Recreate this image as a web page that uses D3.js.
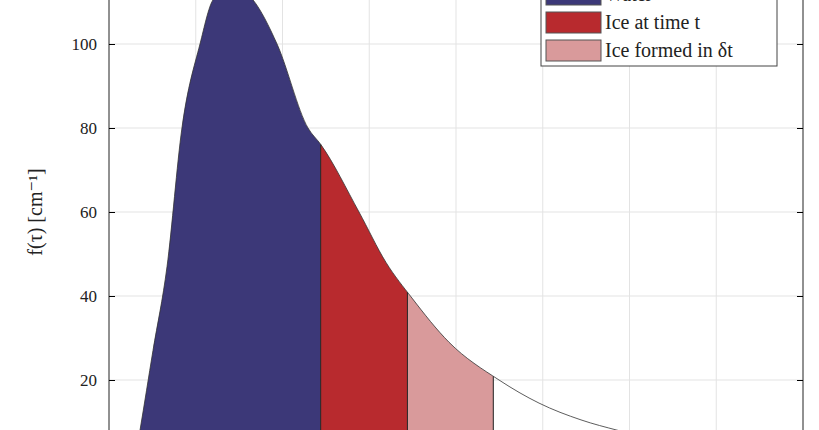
<!DOCTYPE html>
<html><head><meta charset="utf-8">
<script src="https://cdn.jsdelivr.net/npm/d3@7"></script>
<style>body{margin:0;background:#fff}text{font-family:"Liberation Serif","DejaVu Serif",serif;fill:#222}</style>
</head><body><div id="chart"></div>
<script>
// curve f(tau), x in grid units (0..8), y in cm^-1
var curveX = [0.29, 0.357, 0.507, 0.669, 0.841, 1.049, 1.199, 1.429, 1.66, 1.937, 2.294, 2.444, 2.882, 3.193, 3.493, 3.919, 4.496, 4.957, 5.441, 5.867, 6.5, 7.2, 8];
var curveY = [0, 8, 27, 47, 80, 100, 110.5, 114, 110.5, 100, 80, 76, 60, 48, 39.5, 29, 20, 14.5, 10.5, 8, 5, 3, 1.8];
var regionNames = ["Water", "Ice at time t", "Ice formed in δt"];
var regionColors = ["#3c3878", "#b82a2e", "#d99a9b"];
var regionBounds = [[0, 2.44], [2.44, 3.44], [3.44, 4.43]];
var yTicks = [20, 40, 60, 80, 100];

var margin = { left: 109, right: 16 };
var W = 819, H = 430;
var svg = d3.select("#chart").append("svg").attr("width", W).attr("height", H);

var x = d3.scaleLinear().domain([0, 8]).range([margin.left, W - margin.right]);
var y = d3.scaleLinear().domain([0, 100]).range([464, 44]);

// grid
svg.append("g").selectAll("line").data(d3.range(1, 8)).join("line")
    .attr("x1", function (d) { return x(d); }).attr("x2", function (d) { return x(d); })
    .attr("y1", 0).attr("y2", H).attr("stroke", "#e3e3e3");
svg.append("g").selectAll("line").data(yTicks).join("line")
    .attr("x1", x(0)).attr("x2", x(8))
    .attr("y1", function (d) { return y(d); }).attr("y2", function (d) { return y(d); })
    .attr("stroke", "#e3e3e3");

var pts = curveX.map(function (v, i) { return [v, curveY[i]]; });
var area = d3.area().x(function (d) { return x(d[0]); }).y0(y(0)).y1(function (d) { return y(d[1]); }).curve(d3.curveMonotoneX);
var line = d3.line().x(function (d) { return x(d[0]); }).y(function (d) { return y(d[1]); }).curve(d3.curveMonotoneX);

var defs = svg.append("defs");
regionBounds.forEach(function (b, i) {
    defs.append("clipPath").attr("id", "clip" + i).append("rect")
        .attr("x", x(b[0])).attr("width", x(b[1]) - x(b[0])).attr("y", 0).attr("height", 500);
    svg.append("path").datum(pts).attr("d", area).attr("fill", regionColors[i])
        .attr("clip-path", "url(#clip" + i + ")");
});
// region edges
regionBounds.forEach(function (b) {
    svg.append("line").attr("class", "edge").datum(b[1])
        .attr("x1", x(b[1])).attr("x2", x(b[1])).attr("y2", H).attr("stroke", "#222").attr("stroke-width", 1);
});
var pathNode = svg.append("path").datum(pts).attr("d", line).attr("fill", "none")
    .attr("stroke", "#333").attr("stroke-width", 0.8).node();
// find curve height at each edge
var len = pathNode.getTotalLength();
svg.selectAll("line.edge").each(function (xv) {
    var lo = 0, hi = len, p;
    for (var k = 0; k < 40; k++) {
        var mid = (lo + hi) / 2; p = pathNode.getPointAtLength(mid);
        if (p.x < x(xv)) lo = mid; else hi = mid;
    }
    d3.select(this).attr("y1", p.y);
});

// axes frame
svg.append("line").attr("x1", x(0)).attr("x2", x(0)).attr("y1", 0).attr("y2", H).attr("stroke", "#222");
svg.append("line").attr("x1", x(8)).attr("x2", x(8)).attr("y1", 0).attr("y2", H).attr("stroke", "#222");
svg.append("g").attr("transform", "translate(" + x(0) + ",0)")
    .call(d3.axisLeft(y).tickValues(yTicks).tickSize(-6).tickPadding(12))
    .call(function (g) { g.select(".domain").remove(); g.selectAll("text").style("font-size", "17px"); });
svg.append("g").attr("transform", "translate(" + x(8) + ",0)")
    .call(d3.axisRight(y).tickValues(yTicks).tickSize(-6).tickFormat(""))
    .call(function (g) { g.select(".domain").remove(); });

svg.append("text").attr("transform", "translate(42,212) rotate(-90)").attr("text-anchor", "middle")
    .style("font-size", "20px").text("f(τ) [cm⁻¹]");

// legend
var lg = svg.append("g");
lg.append("rect").attr("x", 541).attr("y", -30).attr("width", 236).attr("height", 96)
    .attr("fill", "#fff").attr("stroke", "#444");
regionNames.forEach(function (n, i) {
    var yy = -16 + i * 28;
    lg.append("rect").attr("x", 546).attr("y", yy).attr("width", 55).attr("height", 21)
        .attr("fill", regionColors[i]).attr("stroke", "#555");
    lg.append("text").attr("x", 605).attr("y", yy + 17).style("font-size", "20px").text(n);
});
</script></body></html>
